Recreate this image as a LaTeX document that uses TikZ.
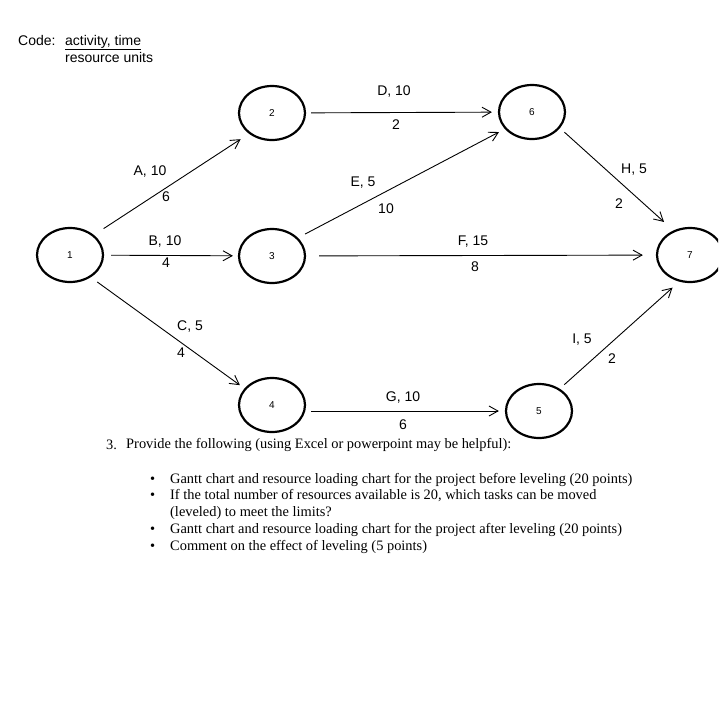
\documentclass[tikz,border=0pt]{standalone}
\usepackage{fontspec}
\setmainfont{Liberation Sans}
\newfontfamily\qfont{Liberation Serif}
\usetikzlibrary{arrows.meta,shapes.geometric}
\tikzset{every picture/.append style={font=\fontsize{14}{16}\selectfont}}
\tikzset{
  event/.style={draw,ellipse,line width=2.2pt,minimum width=66pt,minimum height=54pt,
    inner sep=0pt,font=\fontsize{10}{12}\selectfont},
  act/.style={-{Straight Barb[length=9pt,width=10pt]},line width=0.9pt},
  legend/.style={anchor=base west,inner sep=0pt},
  qline/.style={anchor=west,inner sep=0pt,font=\qfont\fontsize{14.4}{17}\selectfont},
}

\begin{document}
\begin{tikzpicture}[x=1pt,y=-1pt]
    \useasboundingbox (0,0) rectangle (728,726);
    \clip (0,0) rectangle (718,726);
    % code legend
    \node[legend] (code) at (18,45) {Code:};
    \node[legend] (codetop) at (65,45) {\underline{activity, time}};
    \node[legend] (codebot) at ([yshift=-17pt]codetop.base west) {resource units};
    % events
    \foreach \n/\xx/\yy in {1/70/255,2/272/113,3/272/256,4/272/405,5/539/411,6/532/112,7/690/255}
      {\node[event] (e\n) at (\xx,\yy) {\n};}
    % activities
    \draw[act,shorten <=11.6pt,shorten >=10pt] (e1.40) -- (e2.-138);
    \draw[act,shorten <=7pt,shorten >=5pt] (e1) -- (e3);
    \draw[act,shorten <=8pt,shorten >=5.6pt] (e1.-47) -- (e4.149);
    \draw[act,shorten <=5pt,shorten >=6pt] (e2) -- (e6);
    \draw[act,shorten <=8pt,shorten >=6.6pt] (e3.35) -- (e6.-148);
    \draw[act,shorten <=13pt,shorten >=13pt] (e3) -- (e7);
    \draw[act,shorten <=5pt,shorten >=6pt] (e4.east |- e5.west) -- (e5.west);
    \draw[act,shorten <=6pt,shorten >=12.7pt] (e6.-30) -- (e7.124);
    \draw[act,shorten <=6pt,shorten >=9pt] (e5.47) -- (e7.-112);
    % activity labels: name, time / resource units
    \foreach \nm/\xx/\yy/\txt in {tA/150/172/{A, 10},rA/166/197/6,
        tB/165/242/{B, 10},rB/166/263/4,
        tC/190/327/{C, 5},rC/181/353/4,
        tD/394/92/{D, 10},rD/396/125/2,
        tE/363/183/{E, 5},rE/386/209/10,
        tF/473/242/{F, 15},rF/475/267/8,
        tG/403/398/{G, 10},rG/403/425/6,
        tH/634/170/{H, 5},rH/619/204/2,
        tI/582/340/{I, 5},rI/612/359/2}
      {\node[inner sep=0pt] (\nm) at (\xx,\yy) {\txt};}
    % question
    \node[qline] (qnum) at (106,445) {3.};
    \node[qline] (qtext) at (126,445) {Provide the following (using Excel or powerpoint may be helpful):};
    \foreach \nm/\yy in {b1/480,b2/496,b3/530,b4/547}
      {\node[qline] (\nm) at (150,\yy) {\textbullet};}
    \node[qline] (q1) at (170,480) {Gantt chart and resource loading chart for the project before leveling (20 points)};
    \node[qline] (q2) at (170,496) {If the total number of resources available is 20, which tasks can be moved};
    \node[qline] (q2b) at (170,513) {(leveled) to meet the limits?};
    \node[qline] (q3) at (170,530) {Gantt chart and resource loading chart for the project after leveling (20 points)};
    \node[qline] (q4) at (170,547) {Comment on the effect of leveling (5 points)};
\end{tikzpicture}
\end{document}
